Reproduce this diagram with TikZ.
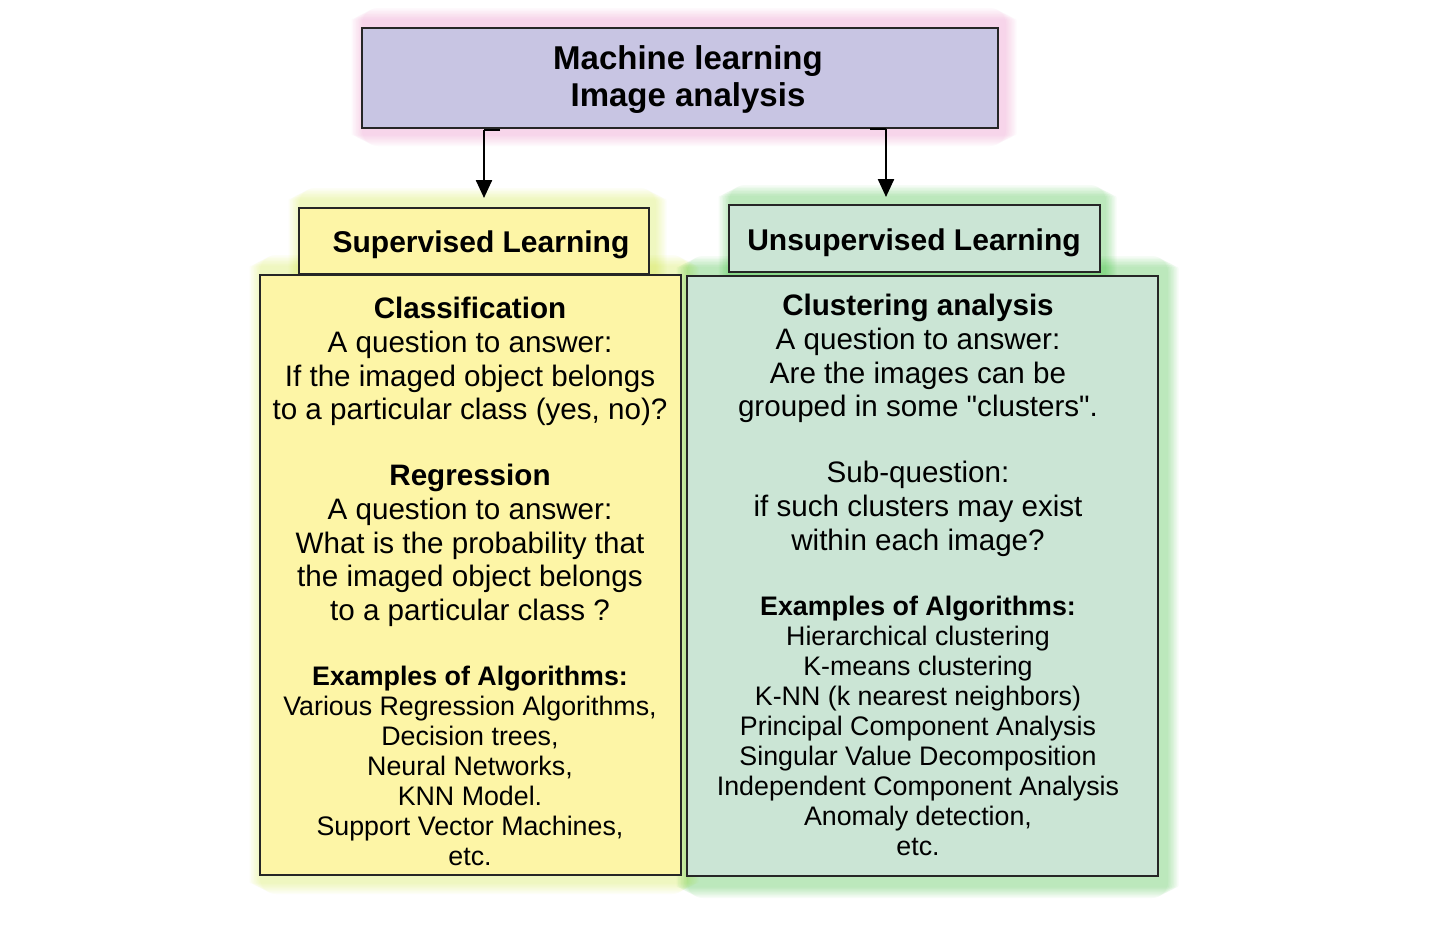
\documentclass[tikz,border=0pt]{standalone}
\usepackage{fontspec}
\setmainfont{Liberation Sans}
\usetikzlibrary{arrows.meta,calc}
\definecolor{lav}{HTML}{C8C5E3}
\definecolor{yel}{HTML}{FDF5A6}
\definecolor{grn}{HTML}{CBE5D5}
\newcommand\myglow[5]{%
 \foreach \k in {1,...,8}{\fill[#1,opacity=0.035,rounded corners=\k pt] ($(#2,#3)+(\k*1.5-2,-\k*1.5+2)$) rectangle ($(#4,#5)+(-\k*1.5+6,\k*1.5-6)$);}}
\tikzset{
 box/.style={draw=black!85,line width=1pt},
 txt/.style={inner sep=0,anchor=north,align=center,font=\fontsize{14.8}{16.85}\selectfont},
 alg/.style={inner sep=0,anchor=north,align=center,font=\fontsize{13.4}{15}\selectfont},
 head/.style={inner sep=0,font=\bfseries\fontsize{15}{18.5}\selectfont,align=center},
 ttl/.style={inner sep=0,font=\bfseries\fontsize{16.5}{18.5}\selectfont,align=center},
 arr/.style={line width=1.2pt,-{Triangle[length=9pt,width=8pt]}}
}
\begin{document}
\begin{tikzpicture}[x=0.5pt,y=-0.5pt]
\useasboundingbox (0,0) rectangle (1442,949);
\fill[white] (0,0) rectangle (1442,949);
\myglow{magenta!60}{352}{18}{1012}{140}
\draw[box,fill=lav] (362,28) rectangle (998,128);
\node[ttl] (top) at (688,80) {Machine learning\\Image analysis};
\myglow{yellow!80!green}{289}{198}{662}{286}
\myglow{green!70!black}{719}{195}{1112}{284}
\myglow{yellow!80!green}{250}{265}{694}{888}
\myglow{green!70!black}{677}{266}{1174}{892}
\draw[box,fill=yel] (299,208) rectangle (649,274);
\node[head] (sup) at (481,245) {Supervised Learning};
\draw[box,fill=grn] (729,205) rectangle (1100,272);
\node[head] (uns) at (914,243) {Unsupervised Learning};
\draw[box,fill=yel] (260,275) rectangle (681,875);
\draw[box,fill=grn] (687,276) rectangle (1158,876);
\coordinate (a1) at (500,130); \coordinate (b1) at (484,198);
\coordinate (a2) at (870,129); \coordinate (b2) at (886,197);
\draw[line width=1.2pt] (a1) -- (484,130);
\draw[arr] (484,130) -- (b1);
\draw[line width=1.2pt] (a2) -- (886,129);
\draw[arr] (886,129) -- (b2);
% left
\node[txt] (l1) at (470,297) {\textbf{Classification}\\A question to answer:\\If the imaged object belongs\\to a particular class (yes, no)?};
\node[txt] (l2) at (470,464) {\textbf{Regression}\\A question to answer:\\What is the probability that\\the imaged object belongs\\to a particular class ?};
\node[alg] (l3) at (470,666) {\textbf{Examples of Algorithms:}\\Various Regression Algorithms,\\Decision trees,\\Neural Networks,\\KNN Model.\\Support Vector Machines,\\etc.};
% right
\node[txt] (r1) at (918,294) {\textbf{Clustering analysis}\\A question to answer:\\Are the images can be\\grouped in some \textquotedbl clusters\textquotedbl.};
\node[txt] (r2) at (918,461) {Sub-question:\\if such clusters may exist\\within each image?};
\node[alg] (r3) at (918,596) {\textbf{Examples of Algorithms:}\\Hierarchical clustering\\K-means clustering\\K-NN (k nearest neighbors)\\Principal Component Analysis\\Singular Value Decomposition\\Independent Component Analysis\\Anomaly detection,\\etc.};
\end{tikzpicture}
\end{document}
